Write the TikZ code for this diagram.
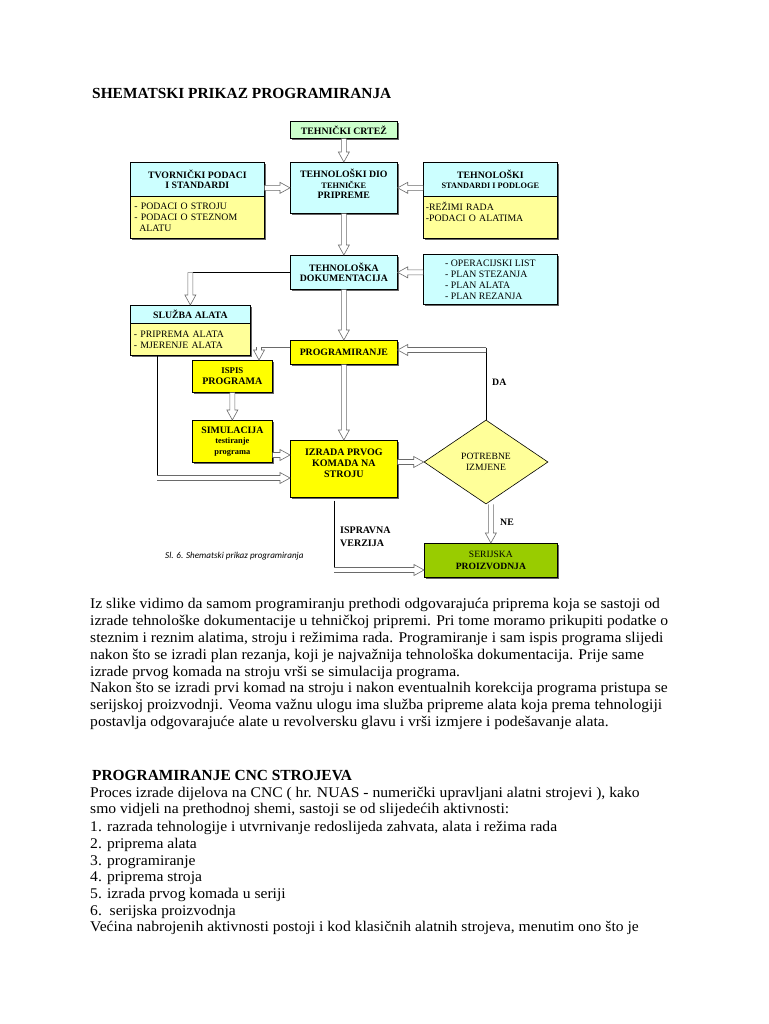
\documentclass[tikz,border=0pt]{standalone}
\usepackage{fontspec}
\usepackage{graphicx}
\setmainfont{Liberation Serif}
\newfontfamily\capfont{Carlito}
\usetikzlibrary{shapes.geometric, arrows.meta, shadows, calc}
\definecolor{cbox}{HTML}{CCFFFF}
\definecolor{ybox}{HTML}{FFFF99}
\definecolor{yell}{HTML}{FFFF00}
\definecolor{lgreen}{HTML}{CCFFCC}
\definecolor{sgreen}{HTML}{99CC00}
\definecolor{agray}{HTML}{6A6A6A}
\newcommand{\harr}[2]{%
  \coordinate (ha) at #1; \coordinate (hb) at #2;
  \coordinate (hh) at ($(hb)!10pt!(ha)$);
  \filldraw[harrow] ($(ha)!2.5pt!90:(hb)$) -- ($(hh)!2.5pt!-90:(ha)$) -- ($(hh)!5.5pt!-90:(ha)$)
    -- (hb) -- ($(hh)!5.5pt!90:(ha)$) -- ($(hh)!2.5pt!90:(ha)$) -- ($(ha)!2.5pt!-90:(hb)$);
}
\newcommand{\smf}{\fontsize{8.3}{10}\selectfont}
\begin{document}
\begin{tikzpicture}[x=1pt,y=-1pt,
  box/.style={draw=black, line width=0.7pt, inner sep=2pt, align=center, anchor=north west,
    font=\fontsize{9.8}{10.5}\selectfont\bfseries,
    drop shadow={shadow xshift=1.3pt, shadow yshift=-1.3pt, fill=black!60, opacity=1}},
  lst/.style={font=\fontsize{9.8}{11}\selectfont, align=left},
  harrow/.style={draw=agray, fill=white, line width=0.6pt, line join=miter},
  thinl/.style={draw=black, line width=0.7pt},
  lbl/.style={font=\fontsize{9.8}{12}\selectfont\bfseries, inner sep=0pt},
  body/.style={anchor=base west, inner sep=0pt, font=\fontsize{14.8}{17}\selectfont}
]
\useasboundingbox (0,0) rectangle (768,1024);
\fill[white] (0,0) rectangle (768,1024);

% title
\node[anchor=base west, inner sep=0pt, font=\bfseries\fontsize{15.4}{17}\selectfont] (title) at (92,99) {SHEMATSKI PRIKAZ PROGRAMIRANJA};

% boxes
\node[box, fill=lgreen, minimum width=107pt, minimum height=17pt] (crtez) at (290,121) {TEHNIČKI CRTEŽ};

\node[box, fill=cbox, minimum width=134pt, minimum height=34pt] (tvtop) at (130,162) {TVORNIČKI PODACI\\I STANDARDI};
\node[box, fill=ybox, minimum width=134pt, minimum height=42pt, lst, text width=126pt] (tvbot) at (130,196) {- PODACI O STROJU\\- PODACI O STEZNOM\\\hspace*{0.5em}ALATU};

\node[box, fill=cbox, minimum width=107pt, minimum height=51pt] (dio) at (290,162) {TEHNOLOŠKI DIO\\{\smf\bfseries TEHNIČKE}\\PRIPREME\\[-3pt]\mbox{}};

\node[box, fill=cbox, minimum width=134pt, minimum height=34pt] (stdtop) at (423,162) {TEHNOLOŠKI\\{\smf\bfseries STANDARDI I PODLOGE}};
\node[box, fill=ybox, minimum width=134pt, minimum height=42pt, lst, text width=129pt] (stdbot) at (423,196) {-REŽIMI RADA\\-PODACI O ALATIMA\\\mbox{}};

\node[box, fill=cbox, minimum width=107pt, minimum height=34pt] (dok) at (290,255) {TEHNOLOŠKA\\DOKUMENTACIJA};
\node[box, fill=cbox, minimum width=134pt, minimum height=50pt, lst] (list) at (423,254) {- OPERACIJSKI LIST\\- PLAN STEZANJA\\- PLAN ALATA\\- PLAN REZANJA};

\node[box, fill=cbox, minimum width=120pt, minimum height=18pt] (slutop) at (130,305) {SLUŽBA ALATA};
\node[box, fill=ybox, minimum width=120pt, minimum height=32pt, lst, text width=113pt] (slubot) at (130,323) {- PRIPREMA ALATA\\- MJERENJE ALATA};

\node[box, fill=yell, minimum width=107pt, minimum height=24pt] (prog) at (290,340) {PROGRAMIRANJE};
\node[box, fill=yell, minimum width=80pt, minimum height=32pt, font=\fontsize{10}{11}\selectfont\bfseries] (ispis) at (192,360) {{\fontsize{8.8}{10}\selectfont\bfseries ISPIS}\\PROGRAMA};
\node[box, fill=yell, minimum width=80pt, minimum height=42pt, font=\fontsize{9.8}{10.5}\selectfont\bfseries] (sim) at (192,420) {SIMULACIJA\\{\fontsize{8.4}{10}\selectfont\bfseries testiranje}\\{\fontsize{8.4}{10}\selectfont\bfseries programa}};
\node[box, fill=yell, minimum width=107pt, minimum height=57pt, font=\fontsize{10}{11}\selectfont\bfseries] (izrada) at (290,440) {IZRADA PRVOG\\KOMADA NA\\STROJU\\\mbox{}};

\node[diamond, draw=black, line width=0.6pt, fill=ybox, minimum width=124pt, minimum height=84pt, inner sep=0pt, align=center, font=\fontsize{9.6}{10.5}\selectfont] (dia) at (486,462) {POTREBNE\\IZMJENE};

\node[box, fill=sgreen, minimum width=133pt, minimum height=34pt, font=\fontsize{9.6}{12}\selectfont\bfseries] (ser) at (424,543) {{\mdseries SERIJSKA}\\PROIZVODNJA};

% labels
\node[lbl, anchor=west] (da) at (492,382) {DA};
\node[lbl, anchor=west] (ne) at (500,522) {NE};
\node[lbl, anchor=north west, align=left, font=\fontsize{10}{13}\selectfont\bfseries] (ispr) at (340,527) {ISPRAVNA\\VERZIJA};
\node[anchor=west, inner sep=0pt, font=\capfont\itshape\fontsize{9.1}{10}\selectfont] (cap) at (165,556) {Sl. 6. Shematski prikaz programiranja};

% connectors
\harr{(crtez.south)}{(dio.north)}
\harr{(tvtop.east |- dio.west)}{(dio.west)}
\harr{(stdtop.west |- dio.east)}{(dio.east)}
\harr{(dio.south)}{(dok.north)}
\harr{(list.west |- dok.east)}{(dok.east)}
\harr{(dok.south)}{(prog.north)}

\coordinate (c1) at (slutop.north |- dok.west);
\draw[thinl] (dok.west) -- ($(c1)+(-2.5,0)$);
\harr{(c1)}{(slutop.north)}

\coordinate (c2) at (259,347);
\draw[draw=agray, line width=0.7pt] (prog.west |- c2) -- ($(c2)+(-2.5,0)$);
\harr{(c2)}{(c2 |- ispis.north)}

\harr{(ispis.south)}{(sim.north)}
\coordinate (c3) at (0,455);
\harr{(sim.east |- c3)}{(izrada.west |- c3)}

\coordinate (c4) at (157,478);
\draw[thinl] (slubot.south -| c4) -- ($(c4)+(0,2.5)$);
\harr{(c4)}{(izrada.west |- c4)}

\harr{(prog.south)}{(izrada.north)}
\harr{(izrada.east |- dia.west)}{(dia.west)}

\coordinate (c5) at (dia.north |- 0,350);
\draw[thinl] (dia.north) -- ($(c5)+(0,-2.5)$);
\harr{(c5)}{(prog.east |- c5)}

\harr{(ser.north |- dia.south)}{(ser.north)}

\coordinate (c6) at (334,570);
\draw[thinl] ($(c6 |- izrada.south)+(0,3)$) -- ($(c6)+(0,2.5)$);
\harr{(c6)}{(ser.west |- c6)}

% body text
\foreach \yy/\txt [count=\n] in {
 608/{Iz slike vidimo da samom programiranju prethodi odgovarajuća priprema koja se sastoji od},
 625/{izrade tehnološke dokumentacije u tehničkoj pripremi. Pri tome moramo prikupiti podatke o},
 642/{steznim i reznim alatima, stroju i režimima rada. Programiranje i sam ispis programa slijedi},
 659/{nakon što se izradi plan rezanja, koji je najvažnija tehnološka dokumentacija. Prije same},
 676/{izrade prvog komada na stroju vrši se simulacija programa.},
 692/{Nakon što se izradi prvi komad na stroju i nakon eventualnih korekcija programa pristupa se},
 709/{serijskoj proizvodnji. Veoma važnu ulogu ima služba pripreme alata koja prema tehnologiji},
 726/{postavlja odgovarajuće alate u revolversku glavu i vrši izmjere i podešavanje alata.},
 797/{Proces izrade dijelova na CNC ( hr. NUAS - numerički upravljani alatni strojevi ), kako},
 813/{smo vidjeli na prethodnoj shemi, sastoji se od slijedećih aktivnosti:},
 831/{1. razrada tehnologije i utvrnivanje redoslijeda zahvata, alata i režima rada},
 848/{2. priprema alata},
 865/{3. programiranje},
 881/{4. priprema stroja},
 898/{5. izrada prvog komada u seriji},
 915/{6.\ \ serijska proizvodnja},
 931/{Većina nabrojenih aktivnosti postoji i kod klasičnih alatnih strojeva, menutim ono što je}}
 { \node[body] (b\n) at (90,\yy) {\scalebox{1.055}[1]{\txt}}; }

\node[body, font=\bfseries\fontsize{15.4}{17}\selectfont] (h2) at (92,780) {PROGRAMIRANJE CNC STROJEVA};
\end{tikzpicture}
\end{document}
